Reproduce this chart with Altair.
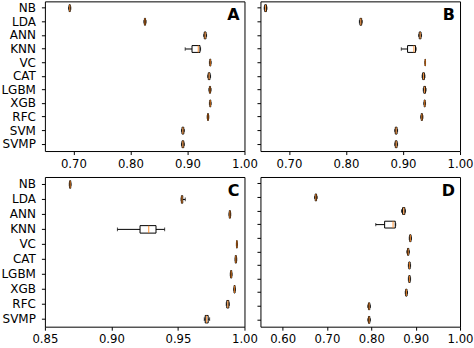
import altair as alt
import pandas as pd

FONT = "DejaVu Sans"

models_11 = ["NB", "LDA", "ANN", "KNN", "VC", "CAT", "LGBM", "XGB", "RFC", "SVM", "SVMP"]
models_C = ["NB", "LDA", "ANN", "KNN", "VC", "CAT", "LGBM", "XGB", "RFC", "SVMP"]

# Panel A
lo_A = [0.6915, 0.8235, 0.9285, 0.896, 0.9385, 0.9355, 0.9375, 0.9385, 0.9345, 0.8895, 0.8895]
q1_A = [0.6925, 0.8245, 0.9295, 0.908, 0.9392, 0.9365, 0.9385, 0.9392, 0.9352, 0.8905, 0.8905]
med_A = [0.6935, 0.8255, 0.931, 0.919, 0.940, 0.938, 0.9395, 0.940, 0.936, 0.892, 0.892]
q3_A = [0.6945, 0.8265, 0.9325, 0.922, 0.9408, 0.9395, 0.9405, 0.9408, 0.9368, 0.8935, 0.8935]
hi_A = [0.6955, 0.8275, 0.9335, 0.923, 0.9415, 0.9405, 0.9415, 0.9415, 0.9375, 0.8945, 0.8945]

# Panel B
lo_B = [0.6565, 0.8235, 0.9275, 0.897, 0.9385, 0.9335, 0.9355, 0.9365, 0.931, 0.8855, 0.8855]
q1_B = [0.6575, 0.8245, 0.9285, 0.908, 0.9388, 0.9345, 0.9365, 0.9372, 0.932, 0.8865, 0.8865]
med_B = [0.659, 0.826, 0.930, 0.919, 0.939, 0.936, 0.938, 0.938, 0.933, 0.888, 0.888]
q3_B = [0.6605, 0.8275, 0.9315, 0.922, 0.9392, 0.9375, 0.9395, 0.9388, 0.934, 0.8895, 0.8895]
hi_B = [0.6615, 0.8285, 0.9325, 0.923, 0.9395, 0.9385, 0.9405, 0.9395, 0.935, 0.8905, 0.8905]

# Panel C
lo_C = [0.8683, 0.9523, 0.9883, 0.9045, 0.9939, 0.9929, 0.9893, 0.9919, 0.9863, 0.9698]
q1_C = [0.8686, 0.9526, 0.9886, 0.9215, 0.9941, 0.9931, 0.9896, 0.9922, 0.9867, 0.9705]
med_C = [0.8690, 0.9530, 0.9890, 0.9280, 0.9943, 0.9935, 0.9900, 0.9925, 0.9875, 0.9715]
q3_C = [0.8694, 0.9536, 0.9894, 0.9335, 0.9945, 0.9939, 0.9904, 0.9929, 0.9882, 0.9727]
hi_C = [0.8697, 0.9555, 0.9897, 0.9400, 0.9947, 0.9942, 0.9907, 0.9932, 0.9886, 0.9738]

# Panel D (NB lies outside the shown range)
models_D = ["LDA", "ANN", "KNN", "VC", "CAT", "LGBM", "XGB", "RFC", "SVM", "SVMP"]
lo_D = [0.672, 0.868, 0.810, 0.8855, 0.880, 0.8835, 0.8835, 0.8765, 0.792, 0.792]
q1_D = [0.6735, 0.8705, 0.830, 0.8865, 0.8815, 0.8845, 0.8845, 0.8775, 0.7935, 0.7935]
med_D = [0.675, 0.873, 0.849, 0.888, 0.883, 0.886, 0.886, 0.879, 0.795, 0.795]
q3_D = [0.6765, 0.8755, 0.854, 0.8895, 0.8845, 0.8875, 0.8875, 0.8805, 0.7965, 0.7965]
hi_D = [0.678, 0.877, 0.855, 0.8905, 0.886, 0.8885, 0.8885, 0.8815, 0.798, 0.798]

W, H = 200, 150


def panel(letter, models, order, lo, q1, med, q3, hi, domain, ticks, show_labels):
    df = pd.DataFrame({"model": models, "lo": lo, "q1": q1, "med": med, "q3": q3, "hi": hi})
    n = len(order)
    band = H / n
    box_h = band * 0.5
    cap_h = box_h * 0.5
    xs = alt.Scale(domain=domain, nice=False, zero=False)
    ys = alt.Scale(domain=order, paddingInner=0, paddingOuter=0)
    xax = alt.Axis(values=ticks, format=".2f", title=None, labelFlush=False, grid=False,
                   tickSize=3.5, labelPadding=3.5, domain=False, labelFontSize=11.7)
    yax = alt.Axis(title=None, labels=show_labels, grid=False, tickSize=3.5,
                   labelPadding=6, domain=False, labelFontSize=12)
    base = alt.Chart(df)
    y = alt.Y("model:N", scale=ys, axis=yax, sort=order)
    whisk = base.mark_rule(color="black", strokeWidth=1).encode(
        x=alt.X("lo:Q", scale=xs, axis=xax), x2="hi:Q", y=y)
    cap_lo = base.mark_tick(color="black", orient="vertical", size=cap_h, thickness=1).encode(
        x=alt.X("lo:Q", scale=xs), y=y)
    cap_hi = base.mark_tick(color="black", orient="vertical", size=cap_h, thickness=1).encode(
        x=alt.X("hi:Q", scale=xs), y=y)
    box = base.mark_bar(fill="white", stroke="black", strokeWidth=1, height=box_h).encode(
        x=alt.X("q1:Q", scale=xs), x2="q3:Q", y=y)
    medm = base.mark_tick(color="#ff7f0e", orient="vertical", size=box_h, thickness=1.2).encode(
        x=alt.X("med:Q", scale=xs), y=y)
    txt = alt.Chart(pd.DataFrame({"label": [letter]})).mark_text(
        font=FONT, fontSize=16, fontWeight="bold", align="right", baseline="alphabetic",
        color="black").encode(text="label:N", x=alt.value(W - 5), y=alt.value(19))
    return alt.layer(whisk, cap_lo, cap_hi, box, medm, txt).properties(width=W, height=H)


pA = panel("A", models_11, models_11, lo_A, q1_A, med_A, q3_A, hi_A, [0.65, 1.0],
           [0.70, 0.80, 0.90, 1.00], True)
pB = panel("B", models_11, models_11, lo_B, q1_B, med_B, q3_B, hi_B, [0.65, 1.0],
           [0.70, 0.80, 0.90, 1.00], False)
pC = panel("C", models_C, models_C, lo_C, q1_C, med_C, q3_C, hi_C, [0.85, 1.0],
           [0.85, 0.90, 0.95, 1.00], True)
pD = panel("D", models_D, models_11, lo_D, q1_D, med_D, q3_D, hi_D, [0.55, 1.0],
           [0.60, 0.70, 0.80, 0.90, 1.00], False)

chart = alt.concat(
    pA, pB, pC, pD, columns=2, spacing=alt.RowColnumber(row=26, column=16), bounds="flush"
).resolve_scale(x="independent", y="independent").properties(
    padding={"left": 0, "top": 0, "right": 0, "bottom": 0},
    background="white",
).configure_view(
    stroke="black", strokeWidth=1
).configure_axis(
    labelFont=FONT, labelFontSize=11.5, labelColor="black", tickColor="black", tickWidth=1
)

chart.save("out.html", embed_options={"renderer": "svg", "actions": False})
